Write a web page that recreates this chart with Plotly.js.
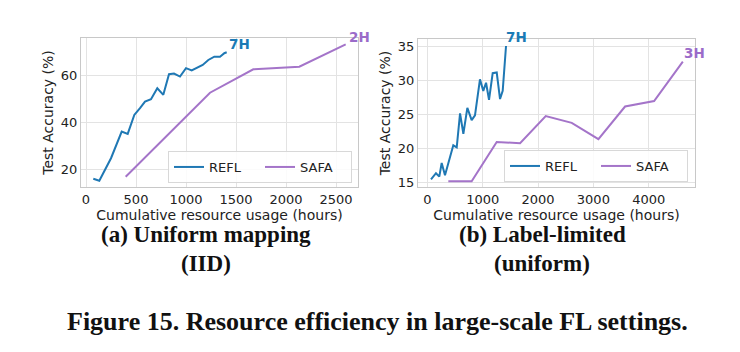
<!DOCTYPE html>
<html>
<head>
<meta charset="utf-8">
<script src="https://cdn.plot.ly/plotly-3.0.1.min.js"></script>
<style>html,body{margin:0;padding:0;background:#fff;}#chart{width:740px;height:352px;}</style>
</head>
<body>
<div id="chart"></div>
<script>
// (a) Uniform mapping (IID)
const reflA_x = [73, 133, 250, 357, 417, 483, 540, 590, 650, 713, 773, 830, 880, 940, 1000, 1057, 1167, 1223, 1283, 1340, 1383, 1407];
const reflA_y = [15.9, 15.1, 24.7, 36.1, 35.1, 43.2, 46.1, 48.9, 49.9, 54.6, 51.8, 60.6, 60.9, 59.6, 63.2, 62.2, 64.6, 66.7, 68.1, 68.1, 69.6, 70.0];
const safaA_x = [397, 1240, 1673, 2133, 2597];
const safaA_y = [16.8, 52.7, 62.7, 63.8, 73.4];
// (b) Label-limited (uniform)
const reflB_x = [65, 155, 215, 258, 318, 468, 530, 590, 650, 722, 800, 860, 950, 1010, 1060, 1114, 1180, 1253, 1313, 1361, 1421];
const reflB_y = [15.5, 16.4, 15.9, 17.9, 16.1, 20.5, 20.2, 25.2, 22.2, 26.0, 24.2, 24.9, 30.2, 28.5, 29.7, 27.2, 31.1, 31.2, 27.3, 28.5, 35.1];
const safaB_x = [378, 800, 1253, 1675, 2139, 2609, 3091, 3573, 4098, 4617];
const safaB_y = [15.2, 15.2, 21.0, 20.8, 24.8, 23.8, 21.4, 26.2, 27.0, 32.8];

const seriesNames = ["REFL", "SAFA"];
const endLabels = { reflA: "7H", safaA: "2H", reflB: "7H", safaB: "3H" };
const subTitleA = ["(a) Uniform mapping", "(IID)"];
const subTitleB = ["(b) Label-limited", "(uniform)"];
const caption = "Figure 15. Resource efficiency in large-scale FL settings.";

const BLUE = "#1f78b4";
const PURPLE = "#a474c9";
const sans = "DejaVu Sans";

const traces = [
  {x: reflA_x, y: reflA_y, name: seriesNames[0], mode: "lines", line: {color: BLUE, width: 2}, xaxis: "x", yaxis: "y", legend: "legend"},
  {x: safaA_x, y: safaA_y, name: seriesNames[1], mode: "lines", line: {color: PURPLE, width: 2}, xaxis: "x", yaxis: "y", legend: "legend"},
  {x: reflB_x, y: reflB_y, name: seriesNames[0], mode: "lines", line: {color: BLUE, width: 2}, xaxis: "x2", yaxis: "y2", legend: "legend2"},
  {x: safaB_x, y: safaB_y, name: seriesNames[1], mode: "lines", line: {color: PURPLE, width: 2}, xaxis: "x2", yaxis: "y2", legend: "legend2"}
];

function axisCommon() {
  return {
    showline: true, mirror: true, linecolor: "#c8c8c8", linewidth: 1,
    showgrid: true, gridcolor: "#e3e3e3", gridwidth: 1,
    zeroline: false, ticks: "", automargin: false,
    tickfont: {family: sans, size: 13, color: "#222"},
    title: {font: {family: sans, size: 14, color: "#222"}}
  };
}

const W = 740, H = 352;
const xa = Object.assign(axisCommon(), {domain: [81/W, 358/W], range: [-50, 2720], dtick: 500, tick0: 0, anchor: "y"});
xa.title.text = "Cumulative resource usage (hours)"; xa.title.standoff = 0;
const ya = Object.assign(axisCommon(), {domain: [1-187/H, 1-38/H], range: [12.4, 76.1], dtick: 20, tick0: 0, anchor: "x"});
ya.title.text = "Test Accuracy (%)"; ya.title.standoff = 3;
const xb = Object.assign(axisCommon(), {domain: [418/W, 695/W], range: [-170, 4837], dtick: 1000, tick0: 0, anchor: "y2"});
xb.title.text = "Cumulative resource usage (hours)"; xb.title.standoff = 0;
const yb = Object.assign(axisCommon(), {domain: [1-187/H, 1-39/H], range: [14.37, 36.13], dtick: 5, tick0: 0, anchor: "x2"});
yb.title.text = "Test Accuracy (%)"; yb.title.standoff = 3;

function legendAt(xr, yb) {
  return {
    orientation: "h", x: xr / W, y: 1 - yb / H, xanchor: "right", yanchor: "bottom",
    bgcolor: "rgba(255,255,255,0.85)", bordercolor: "#d8d8d8", borderwidth: 1,
    font: {family: sans, size: 13, color: "#222"},
    entrywidth: 46, entrywidthmode: "pixels", itemwidth: 30, tracegroupgap: 0
  };
}

function endAnn(xs, ys, text, color, xref, yref, xshift, yshift) {
  return {
    x: xs[xs.length - 1], y: ys[ys.length - 1], xref: xref, yref: yref,
    text: "<b>" + text + "</b>", showarrow: false, xanchor: "left", yanchor: "middle",
    xshift: xshift, yshift: yshift,
    font: {family: sans, size: 13.5, color: color}
  };
}

const serif = "Liberation Serif";
function paperText(text, xpx, ypx, size) {
  return {x: xpx / W, y: 1 - ypx / H, xref: "paper", yref: "paper", text: "<b>" + text + "</b>", showarrow: false,
          xanchor: "center", yanchor: "middle", align: "center", font: {family: serif, size: size, color: "#111"}};
}
const annotations = [
  endAnn(reflA_x, reflA_y, endLabels.reflA, "#1b7ab5", "x", "y", 0, 8),
  endAnn(safaA_x, safaA_y, endLabels.safaA, "#9b6bc9", "x", "y", 1, 7),
  endAnn(reflB_x, reflB_y, endLabels.reflB, "#1b7ab5", "x2", "y2", -2, 9),
  endAnn(safaB_x, safaB_y, endLabels.safaB, "#9b6bc9", "x2", "y2", -1, 9),
  paperText(subTitleA[0], 206, 234, 23),
  paperText(subTitleA[1], 206, 263, 23),
  paperText(subTitleB[0], 542, 234, 23),
  paperText(subTitleB[1], 542, 263, 23),
  paperText(caption, 377, 321, 26)
];

const layout = {
  width: W, height: H, margin: {l: 0, r: 0, t: 0, b: 0},
  paper_bgcolor: "#fff", plot_bgcolor: "#fff",
  showlegend: true,
  xaxis: xa, yaxis: ya, xaxis2: xb, yaxis2: yb,
  legend: legendAt(352, 183),
  legend2: legendAt(688, 182),
  annotations: annotations
};

Plotly.newPlot("chart", traces, layout, {staticPlot: true, displayModeBar: false});
</script>
</body>
</html>
